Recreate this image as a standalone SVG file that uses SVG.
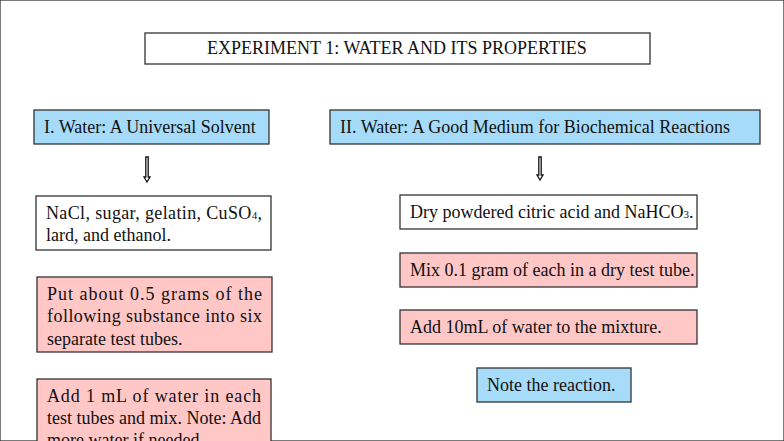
<svg xmlns="http://www.w3.org/2000/svg" width="784" height="441" viewBox="0 0 784 441">
<style>
rect{stroke:#333;stroke-width:1.3}
.w{fill:#fff}.b{fill:#a6dcf9}.p{fill:#ffc7c6}
text{font-family:"Liberation Serif","Times New Roman",serif;font-size:18px;fill:#111}
.sub{font-size:11px}
.ar{fill:#fff;stroke:#111;stroke-width:1.3}
</style>
<rect width="784" height="441" fill="#fff" stroke="none"/>
<g id="title"><rect class="w" x="145" y="33" width="505" height="31"/><text x="397" y="54" text-anchor="middle" font-size="17">EXPERIMENT 1: WATER AND ITS PROPERTIES</text></g>
<g id="h1"><rect class="b" x="34" y="110" width="235" height="34"/><text x="44" y="133">I. Water: A Universal Solvent</text></g>
<g id="n1"><rect class="w" x="36" y="196" width="235" height="54"/><text x="46" y="219" textLength="216" lengthAdjust="spacing">NaCl, sugar, gelatin, CuSO<tspan class="sub">4</tspan>,</text><text x="46" y="241">lard, and ethanol.</text></g>
<g id="n2"><rect class="p" x="37" y="277" width="235" height="75"/><text x="47" y="300" textLength="215" lengthAdjust="spacing">Put about 0.5 grams of the</text><text x="47" y="322" textLength="215" lengthAdjust="spacing">following substance into six</text><text x="47" y="345">separate test tubes.</text></g>
<g id="n3"><rect class="p" x="37" y="379" width="234" height="70"/><text x="47" y="402" textLength="214" lengthAdjust="spacing">Add 1 mL of water in each</text><text x="47" y="424" textLength="214" lengthAdjust="spacing">test tubes and mix. Note: Add</text><text x="47" y="446">more water if needed.</text></g>
<g id="h2"><rect class="b" x="330" y="110" width="430" height="34"/><text x="340" y="133">II. Water: A Good Medium for Biochemical Reactions</text></g>
<g id="r1"><rect class="w" x="400" y="195" width="297" height="34"/><text x="410" y="218">Dry powdered citric acid and NaHCO<tspan class="sub">3</tspan>.</text></g>
<g id="r2"><rect class="p" x="400" y="253" width="297" height="34"/><text x="410" y="276">Mix 0.1 gram of each in a dry test tube.</text></g>
<g id="r3"><rect class="p" x="400" y="310" width="297" height="34"/><text x="410" y="333">Add 10mL of water to the mixture.</text></g>
<g id="r4"><rect class="b" x="477" y="368" width="154" height="34"/><text x="487" y="391">Note the reaction.</text></g>
<g id="connectors">
<polygon class="ar" points="145.8,157 148.2,157 148.2,177 150,177 147,182 144,177 145.8,177"/>
<polygon class="ar" points="538.8,157 541.2,157 541.2,175 543,175 540,180 537,175 538.8,175"/>
</g>
</svg>
